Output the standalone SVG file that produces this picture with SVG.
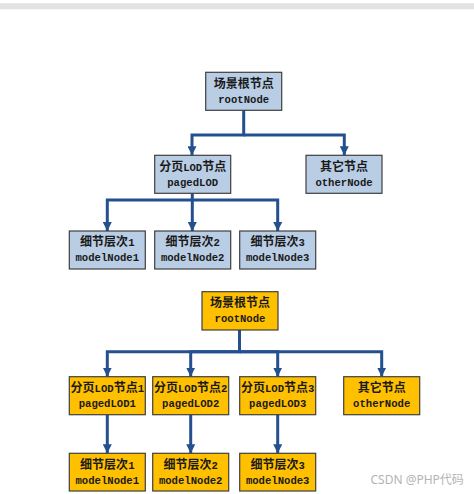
<svg xmlns="http://www.w3.org/2000/svg" width="474" height="494" viewBox="0 0 474 494">
<style>
.bg{fill:#ffffff}
.bar{fill:#e2e2e2}
.blue rect{fill:#b9cde5;stroke:#3f3f3f;stroke-width:1.2}
.gold rect{fill:#ffc000;stroke:#3f3f3f;stroke-width:1.2}
text{font-family:"Liberation Mono","Noto Sans CJK SC",monospace;font-size:10px;fill:#1a1a1a;text-anchor:middle}
.c{font-family:"Noto Sans CJK SC",sans-serif;font-size:12px;font-weight:700}
.l{font-family:"Liberation Mono",monospace;font-size:10.6px;font-weight:700}
.conn path{fill:none;stroke:#24508f;stroke-width:3}
.wm{font-family:"Noto Sans","Noto Sans CJK SC",sans-serif;font-size:12px;fill:#b4b4b4;text-anchor:start}
</style>
<defs>
<marker id="ah" viewBox="0 0 10 10" refX="10" refY="5" markerWidth="3" markerHeight="3" orient="auto" markerUnits="strokeWidth">
<path d="M0,0 L10,5 L0,10 z" fill="#24508f"/>
</marker>
</defs>
<rect class="bg" x="0" y="0" width="474" height="494"/>
<rect class="bar" x="0" y="3.3" width="474" height="6"/>

<g class="conn" id="connectors">
<path d="M243.7,110.3 V135 H192 V155.3" marker-end="url(#ah)"/>
<path d="M243.7,135 H344.3 V155.3" marker-end="url(#ah)"/>
<path d="M192.3,193.3 V200 H107.3 V231" marker-end="url(#ah)"/>
<path d="M192.3,200 V231" marker-end="url(#ah)"/>
<path d="M192.3,200 H277.7 V231" marker-end="url(#ah)"/>

<path d="M239.5,330 V351.7 H107.3 V376.7" marker-end="url(#ah)"/>
<path d="M239.5,351.7 H190.7 V376.7" marker-end="url(#ah)"/>
<path d="M239.5,351.7 H277.7 V376.7" marker-end="url(#ah)"/>
<path d="M239.5,351.7 H381.7 V376.7" marker-end="url(#ah)"/>
<path d="M107.3,414.7 V453.3" marker-end="url(#ah)"/>
<path d="M190.7,414.7 V453.3" marker-end="url(#ah)"/>
<path d="M277.7,414.7 V453.3" marker-end="url(#ah)"/>
</g>

<g id="t-root" class="blue"><rect x="205.7" y="72.3" width="76" height="38"/>
<text x="243.7" y="87.6" class="c">场景根节点</text><text x="243.7" y="102.5" class="l">rootNode</text></g>
<g id="t-paged" class="blue"><rect x="154.7" y="155.3" width="76" height="38"/>
<text x="192.7" y="170.6"><tspan class="c">分页</tspan><tspan class="l">LOD</tspan><tspan class="c">节点</tspan></text><text x="192.7" y="185.5" class="l">pagedLOD</text></g>
<g id="t-other" class="blue"><rect x="306" y="155.3" width="76" height="38"/>
<text x="344" y="170.6" class="c">其它节点</text><text x="344" y="185.5" class="l">otherNode</text></g>
<g id="t-m1" class="blue"><rect x="69.3" y="231" width="76" height="38"/>
<text x="107.3" y="246.3"><tspan class="c">细节层次</tspan><tspan class="l">1</tspan></text><text x="107.3" y="261.2" class="l">modelNode1</text></g>
<g id="t-m2" class="blue"><rect x="154.7" y="231" width="76" height="38"/>
<text x="192.7" y="246.3"><tspan class="c">细节层次</tspan><tspan class="l">2</tspan></text><text x="192.7" y="261.2" class="l">modelNode2</text></g>
<g id="t-m3" class="blue"><rect x="239.7" y="231" width="76" height="38"/>
<text x="277.7" y="246.3"><tspan class="c">细节层次</tspan><tspan class="l">3</tspan></text><text x="277.7" y="261.2" class="l">modelNode3</text></g>

<g id="b-root" class="gold"><rect x="202" y="291.7" width="76" height="38.3"/>
<text x="240" y="307" class="c">场景根节点</text><text x="240" y="321.9" class="l">rootNode</text></g>
<g id="b-p1" class="gold"><rect x="69.3" y="376.7" width="76" height="38"/>
<text x="107.3" y="392"><tspan class="c">分页</tspan><tspan class="l">LOD</tspan><tspan class="c">节点</tspan><tspan class="l">1</tspan></text><text x="107.3" y="406.9" class="l">pagedLOD1</text></g>
<g id="b-p2" class="gold"><rect x="152.7" y="376.7" width="76" height="38"/>
<text x="190.7" y="392"><tspan class="c">分页</tspan><tspan class="l">LOD</tspan><tspan class="c">节点</tspan><tspan class="l">2</tspan></text><text x="190.7" y="406.9" class="l">pagedLOD2</text></g>
<g id="b-p3" class="gold"><rect x="239.7" y="376.7" width="76" height="38"/>
<text x="277.7" y="392"><tspan class="c">分页</tspan><tspan class="l">LOD</tspan><tspan class="c">节点</tspan><tspan class="l">3</tspan></text><text x="277.7" y="406.9" class="l">pagedLOD3</text></g>
<g id="b-other" class="gold"><rect x="343.7" y="376.7" width="76" height="38"/>
<text x="381.7" y="392" class="c">其它节点</text><text x="381.7" y="406.9" class="l">otherNode</text></g>
<g id="b-m1" class="gold"><rect x="69.3" y="453.3" width="76" height="37.7"/>
<text x="107.3" y="468.6"><tspan class="c">细节层次</tspan><tspan class="l">1</tspan></text><text x="107.3" y="483.5" class="l">modelNode1</text></g>
<g id="b-m2" class="gold"><rect x="152.7" y="453.3" width="76" height="37.7"/>
<text x="190.7" y="468.6"><tspan class="c">细节层次</tspan><tspan class="l">2</tspan></text><text x="190.7" y="483.5" class="l">modelNode2</text></g>
<g id="b-m3" class="gold"><rect x="239.7" y="453.3" width="76" height="37.7"/>
<text x="277.7" y="468.6"><tspan class="c">细节层次</tspan><tspan class="l">3</tspan></text><text x="277.7" y="483.5" class="l">modelNode3</text></g>

<text class="wm" x="370.5" y="484.3">CSDN @PHP代码</text>
</svg>
